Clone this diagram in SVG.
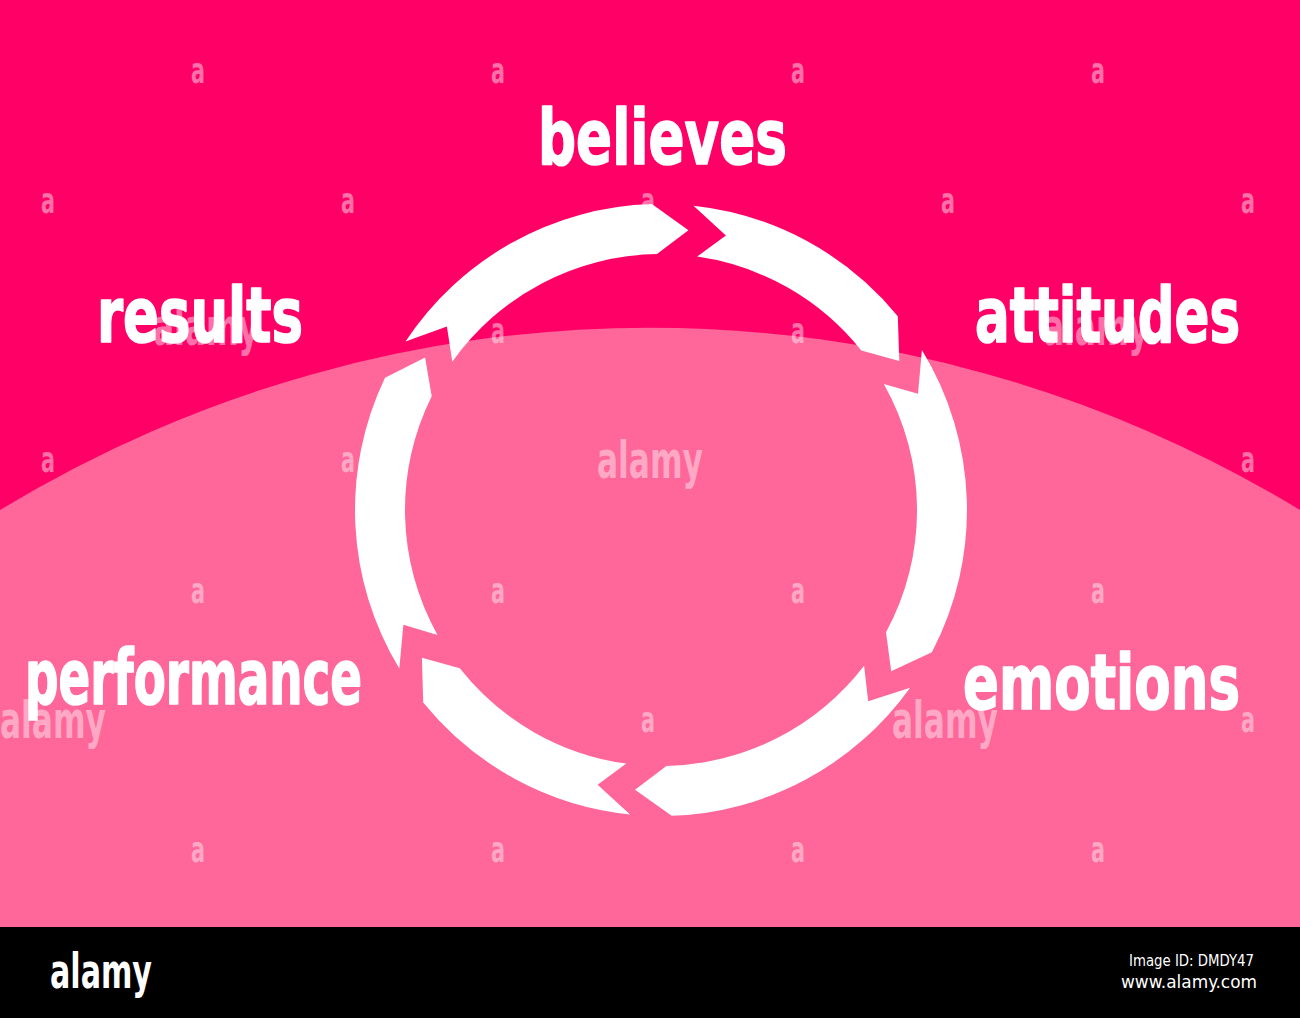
<svg xmlns="http://www.w3.org/2000/svg" xmlns:xlink="http://www.w3.org/1999/xlink" width="1300" height="1018" viewBox="0 0 1300 1018">
<style>
.top{fill:#FF0066}
.low{fill:#FF6699}
.arrow{fill:#FFFFFF}
.label{font-family:"Liberation Sans Narrow","DejaVu Sans Condensed","Liberation Sans",sans-serif;font-weight:bold;font-size:76px;fill:#FFFFFF;stroke:#FFFFFF;stroke-width:1.6px;stroke-linejoin:round}
.wm{font-family:"Liberation Sans Narrow","DejaVu Sans Condensed","Liberation Sans",sans-serif;font-weight:bold;fill:#FFFFFF;fill-opacity:0.45}
.foot{font-family:"Liberation Sans Narrow","DejaVu Sans Condensed","Liberation Sans",sans-serif;fill:#FFFFFF}
</style>
<defs>
<text id="wa" class="wm" font-size="36" textLength="14" lengthAdjust="spacingAndGlyphs" text-anchor="middle">a</text>
<text id="walamy" class="wm" font-size="52" textLength="106" lengthAdjust="spacingAndGlyphs">alamy</text>
</defs>
<g id="background">
<rect class="top" x="0" y="0" width="1300" height="927"/>
<path class="low" d="M0,510 A1250,1250 0 0 1 1300,510 L1300,927 L0,927 Z"/>
<rect x="0" y="927" width="1300" height="91" fill="#000000"/>
</g>
<g id="watermarks">
<use xlink:href="#wa" x="198" y="83"/><use xlink:href="#wa" x="498" y="83"/><use xlink:href="#wa" x="798" y="83"/><use xlink:href="#wa" x="1098" y="83"/>
<use xlink:href="#wa" x="48" y="213"/><use xlink:href="#wa" x="348" y="213"/><use xlink:href="#wa" x="648" y="213"/><use xlink:href="#wa" x="948" y="213"/><use xlink:href="#wa" x="1248" y="213"/>
<use xlink:href="#wa" x="498" y="343"/><use xlink:href="#wa" x="798" y="343"/>
<use xlink:href="#wa" x="48" y="472"/><use xlink:href="#wa" x="348" y="472"/><use xlink:href="#wa" x="948" y="472"/><use xlink:href="#wa" x="1248" y="472"/>
<use xlink:href="#wa" x="198" y="603"/><use xlink:href="#wa" x="498" y="603"/><use xlink:href="#wa" x="798" y="603"/><use xlink:href="#wa" x="1098" y="603"/>
<use xlink:href="#wa" x="648" y="732"/><use xlink:href="#wa" x="1248" y="732"/>
<use xlink:href="#wa" x="198" y="862"/><use xlink:href="#wa" x="498" y="862"/><use xlink:href="#wa" x="798" y="862"/><use xlink:href="#wa" x="1098" y="862"/>
<use xlink:href="#walamy" x="597" y="478"/>
<use xlink:href="#walamy" x="0" y="738"/>
<use xlink:href="#walamy" x="892" y="738"/>
</g>
<g id="connectors">
<path id="arrow-believes-attitudes" class="arrow" d="M693.5,205.7 A306,306 0 0 1 897.8,316.2 L899.3,361.1 L861.3,350.6 A256,256 0 0 0 697.1,256.6 L725.9,235.6 Z"/>
<path id="arrow-attitudes-emotions" class="arrow" d="M921.9,350.1 A306,306 0 0 1 931.9,652.2 L891.2,671.2 L886.0,632.2 A256,256 0 0 0 883.8,383.9 L918.0,393.7 Z"/>
<path id="arrow-emotions-bottom" class="arrow" d="M910.1,687.7 A306,306 0 0 1 671.7,815.8 L635.0,789.8 L666.4,765.9 A256,256 0 0 0 864.1,665.8 L868.2,701.2 Z"/>
<path id="arrow-bottom-performance" class="arrow" d="M630.1,814.4 A306,306 0 0 1 423.2,702.6 L421.9,657.7 L459.8,668.3 A256,256 0 0 0 626.3,763.6 L597.6,784.8 Z"/>
<path id="arrow-performance-results" class="arrow" d="M399.3,668.5 A306,306 0 0 1 385.0,377.8 L425.1,357.4 L431.7,396.2 A256,256 0 0 0 437.5,634.9 L403.4,624.7 Z"/>
<path id="arrow-results-believes" class="arrow" d="M405.5,341.6 A306,306 0 0 1 651.9,204.1 L688.4,230.3 L657.0,254.0 A256,256 0 0 0 452.3,361.7 L446.9,326.5 Z"/>
</g>
<g id="node-believes"><text class="label" x="538" y="164" textLength="249" lengthAdjust="spacingAndGlyphs">believes</text></g>
<g id="node-attitudes"><text class="label" x="1240" y="342" text-anchor="end" textLength="265" lengthAdjust="spacingAndGlyphs">attitudes</text></g>
<g id="node-emotions"><text class="label" x="1240" y="709" text-anchor="end" textLength="277" lengthAdjust="spacingAndGlyphs">emotions</text></g>
<g id="node-performance"><text class="label" x="25" y="704" textLength="337" lengthAdjust="spacingAndGlyphs">performance</text></g>
<g id="node-results"><text class="label" x="97" y="342" textLength="206" lengthAdjust="spacingAndGlyphs">results</text></g>
<g id="label-watermarks">
<use xlink:href="#walamy" x="153" y="345"/>
<use xlink:href="#walamy" x="1043" y="345"/>
</g>
<g id="footer">
<text class="foot" x="50" y="988" font-size="48" font-weight="bold" textLength="102" lengthAdjust="spacingAndGlyphs">alamy</text>
<text class="foot" x="1129" y="966" font-size="15" textLength="125" lengthAdjust="spacingAndGlyphs">Image ID: DMDY47</text>
<text class="foot" x="1121" y="988" font-size="18" textLength="136" lengthAdjust="spacingAndGlyphs">www.alamy.com</text>
</g>
</svg>
